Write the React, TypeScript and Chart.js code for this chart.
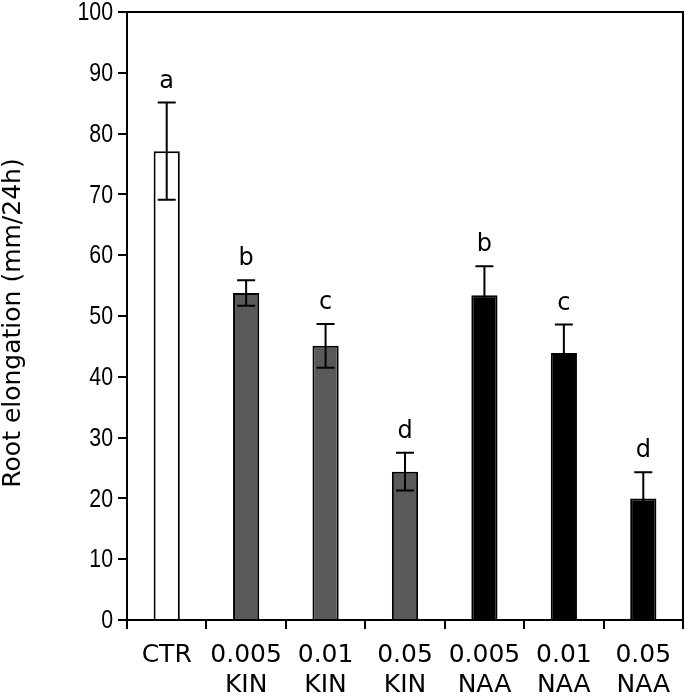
import React, { useEffect, useRef } from "react";
import { Chart, registerables } from "chart.js";

Chart.register(...registerables);

const categories: string[][] = [
  ["CTR"],
  ["0.005", "KIN"],
  ["0.01", "KIN"],
  ["0.05", "KIN"],
  ["0.005", "NAA"],
  ["0.01", "NAA"],
  ["0.05", "NAA"],
];
const means = [77.1, 53.8, 45.1, 24.4, 53.4, 43.9, 20.0];
const errors = [8.0, 2.1, 3.6, 3.1, 4.8, 4.7, 4.3];
const letters = ["a", "b", "c", "d", "b", "c", "d"];
const fills = ["#ffffff", "#595959", "#595959", "#595959", "#000000", "#000000", "#000000"];
const yTitle = "Root elongation (mm/24h)";

const ARIAL = "'Liberation Sans', Arial, sans-serif";
const WIDE = "'DejaVu Sans', sans-serif";

const extrasPlugin = {
  id: "extras",
  afterDatasetsDraw(chart: any) {
    const ctx = chart.ctx;
    const meta = chart.getDatasetMeta(0);
    const y = chart.scales.y;
    const area = chart.chartArea;
    ctx.save();
    // frame top & right
    ctx.strokeStyle = "#000";
    ctx.lineWidth = 2;
    ctx.beginPath();
    ctx.moveTo(area.left - 9, area.top);
    ctx.lineTo(area.right, area.top);
    ctx.lineTo(area.right, area.bottom);
    ctx.stroke();
    meta.data.forEach((bar: any, i: number) => {
      const x = bar.x;
      const top = y.getPixelForValue(means[i] + errors[i]);
      const bot = y.getPixelForValue(means[i] - errors[i]);
      ctx.strokeStyle = "#000";
      ctx.lineWidth = 2;
      ctx.beginPath();
      ctx.moveTo(x, top);
      ctx.lineTo(x, bot);
      ctx.moveTo(x - 9, top);
      ctx.lineTo(x + 9, top);
      ctx.moveTo(x - 9, bot);
      ctx.lineTo(x + 9, bot);
      ctx.stroke();
      ctx.fillStyle = "#000";
      ctx.font = `24px ${WIDE}`;
      ctx.textAlign = "center";
      ctx.textBaseline = "alphabetic";
      ctx.fillText(letters[i], x, top - 15);
    });
    // y tick labels (narrow rendering)
    ctx.font = `26px ${ARIAL}`;
    ctx.textAlign = "right";
    ctx.textBaseline = "middle";
    y.ticks.forEach((t: any) => {
      const py = y.getPixelForValue(t.value);
      ctx.save();
      ctx.translate(area.left - 14, py + 1);
      ctx.scale(0.82, 1);
      ctx.fillText(String(t.value), 0, 0);
      ctx.restore();
    });
    // y axis title
    ctx.translate(13, 323);
    ctx.rotate(-Math.PI / 2);
    ctx.font = `25px ${WIDE}`;
    ctx.textAlign = "center";
    ctx.textBaseline = "middle";
    ctx.fillText(yTitle, 0, 0);
    ctx.restore();
  },
};

export default function App() {
  const ref = useRef<HTMLCanvasElement>(null);
  useEffect(() => {
    document.body.style.margin = "0";
    const chart = new Chart(ref.current!, {
      type: "bar",
      data: {
        labels: categories,
        datasets: [
          {
            data: means,
            backgroundColor: fills,
            borderColor: "#000",
            borderWidth: 2,
            categoryPercentage: 1,
            barPercentage: 0.33,
          },
        ],
      },
      plugins: [extrasPlugin],
      options: {
        animation: false,
        responsive: false,
        devicePixelRatio: 1,
        layout: { padding: { top: 12, right: 2, left: 0, bottom: 0 } },
        plugins: { legend: { display: false }, tooltip: { enabled: false } },
        scales: {
          x: {
            grid: {
              drawOnChartArea: false,
              drawTicks: true,
              tickLength: 9,
              color: "#000",
              lineWidth: 2,
              offset: true,
            },
            border: { color: "#000", width: 2 },
            ticks: {
              color: "#000",
              font: { family: WIDE, size: 25, lineHeight: 1.2 },
              padding: 11,
              maxRotation: 0,
              autoSkip: false,
            },
            afterFit: (s: any) => {
              s.height = 77;
              s.paddingLeft = 0;
              s.paddingRight = 0;
            },
          },
          y: {
            min: 0,
            max: 100,
            grid: {
              drawOnChartArea: false,
              drawTicks: true,
              tickLength: 9,
              color: "#000",
              lineWidth: 2,
            },
            border: { color: "#000", width: 2 },
            ticks: {
              stepSize: 10,
              display: false,
            },
            afterFit: (s: any) => {
              s.width = 127;
              s.paddingTop = 0;
              s.paddingBottom = 0;
            },
          },
        },
      },
    });
    return () => chart.destroy();
  }, []);
  return <canvas ref={ref} width={685} height={697} style={{ display: "block" }} />;
}
